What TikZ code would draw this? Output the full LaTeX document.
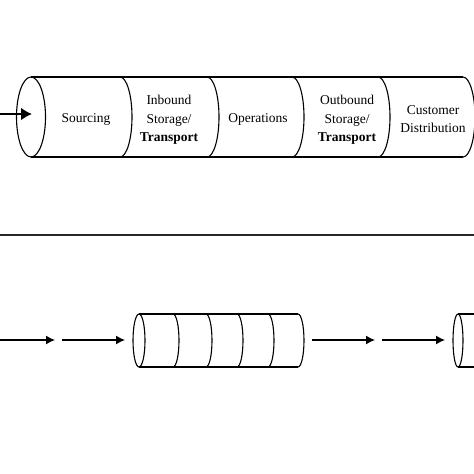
\documentclass[tikz,border=0pt]{standalone}
\usepackage{fontspec}
\setmainfont{Liberation Serif}
\usetikzlibrary{arrows.meta}
\tikzset{
  outline/.style={line width=1.1pt, black},
  seglabel/.style={align=center, inner sep=0pt, font=\fontsize{13.5}{18.5}\selectfont},
  bigarrow/.style={line width=2.8pt, -{Latex[length=11pt,width=13pt]}},
  smallarrow/.style={line width=1.3pt, -{Latex[length=9pt,width=9pt]}},
  rule/.style={line width=2pt, black!85}
}
\begin{document}
\begin{tikzpicture}[x=1pt,y=-1pt]
\useasboundingbox (0,0) rectangle (474,474);
% ---------- top pipeline ----------
\draw[outline] (31,117) ellipse [x radius=14.5, y radius=40];
\draw[outline] (31,77) -- (463,77);
\draw[outline] (31,157) -- (463,157);
\foreach \x in {120,207,292,378,463}{
  \draw[outline] (\x,77) arc[start angle=-90, end angle=90, x radius=12, y radius=40];
}
\node[seglabel] (sourcing) at (86,119) {Sourcing};
\node[seglabel] (inbound) at (169,120) {Inbound\\Storage/\\\textbf{Transport}};
\node[seglabel] (operations) at (258,119) {Operations};
\node[seglabel] (outbound) at (347,120) {Outbound\\Storage/\\\textbf{Transport}};
\node[seglabel] (customer) at (433,119) {Customer\\Distribution};
\coordinate (inL) at (0,114);
\coordinate (inR) at (32,114);
\draw[bigarrow] (inL) -- (inR);
% ---------- separator ----------
\coordinate (ruleL) at (0,235);
\coordinate (ruleR) at (474,235);
\draw[rule] (ruleL) -- (ruleR);
% ---------- bottom pipeline ----------
\draw[outline] (139,340.5) ellipse [x radius=6, y radius=26.5];
\draw[outline] (139,314) -- (298,314);
\draw[outline] (139,367) -- (298,367);
\foreach \x in {173,206,237,268,298}{
  \draw[outline] (\x,314) arc[start angle=-90, end angle=90, x radius=6, y radius=26.5];
}
\draw[outline] (458,340.5) ellipse [x radius=5, y radius=26.5];
\draw[outline] (458,314) -- (474,314);
\draw[outline] (458,367) -- (474,367);
\coordinate (a1s) at (0,340);   \coordinate (a1e) at (55,340);
\coordinate (a2s) at (62,340);  \coordinate (a2e) at (125,340);
\coordinate (a3s) at (312,340); \coordinate (a3e) at (375,340);
\coordinate (a4s) at (382,340); \coordinate (a4e) at (445,340);
\draw[smallarrow] (a1s) -- (a1e);
\draw[smallarrow] (a2s) -- (a2e);
\draw[smallarrow] (a3s) -- (a3e);
\draw[smallarrow] (a4s) -- (a4e);
\end{tikzpicture}
\end{document}
